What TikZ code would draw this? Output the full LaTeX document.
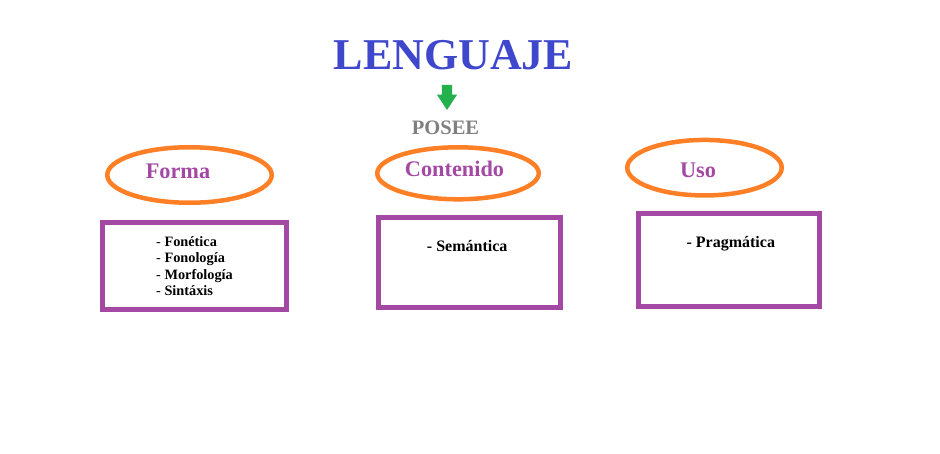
\documentclass[tikz,border=0pt]{standalone}
\usepackage{fontspec}
\setmainfont{Liberation Serif}
\usetikzlibrary{shapes.geometric,shapes.arrows}
\definecolor{azul}{RGB}{63,72,204}
\definecolor{morado}{RGB}{163,73,164}
\definecolor{naranja}{RGB}{255,127,39}
\definecolor{verde}{RGB}{34,177,76}
\definecolor{gris}{RGB}{127,127,127}

\begin{document}
\begin{tikzpicture}
	[x=1pt, y=-1pt,
	every node/.style={font=\bfseries,inner sep=0pt},
	elipse/.style={ellipse,draw=naranja,line width=4.5pt},
	caja/.style={rectangle,draw=morado,line width=5pt},
	parte/.style={morado,anchor=base,font=\fontsize{22.3}{22.3}\selectfont\bfseries},
	item/.style={anchor=base,font=\fontsize{16}{18}\selectfont\bfseries}]
	\useasboundingbox (0,0) rectangle (940,454);
	\node (lenguaje) [azul,anchor=base,font=\fontsize{44}{44}\selectfont\bfseries] at (453.5,70) {LENGUAJE};
	\node (flecha) [single arrow,fill=verde,rotate=-90,minimum height=25,inner xsep=0pt,inner ysep=5pt,
		single arrow head extend=5,single arrow tip angle=67] at (447,93.5) {};
	\node (posee) [gris,anchor=base,font=\fontsize{20.5}{20.5}\selectfont\bfseries] at (445.5,135) {POSEE};
	\node (eForma) [elipse,minimum width=164.5,minimum height=55.5] at (189.5,175) {};
	\node (eContenido) [elipse,minimum width=161.5,minimum height=52] at (458,173.3) {};
	\node (eUso) [elipse,minimum width=154.5,minimum height=55.5] at (704.5,167.7) {};
	\node (forma) [parte] at (178,178.3) {Forma};
	\node (contenido) [parte] at (454.5,176.7) {Contenido};
	\node (uso) [parte] at (698,177.3) {Uso};
	\node (cajaForma) [caja,minimum width=184,minimum height=87,align=left,
		font=\fontsize{14.3}{16.4}\selectfont\bfseries] at (194.5,266)
		{{\mdseries -} Fonética\\{\mdseries -} Fonología\\{\mdseries -} Morfología\\{\mdseries -} Sintáxis};
	\node (cajaContenido) [caja,minimum width=182,minimum height=90] at (469.5,262.5) {};
	\node (cajaUso) [caja,minimum width=181,minimum height=93] at (729,260) {};
	\node (semantica) [item] at (467.2,251.7) {- Semántica};
	\node (pragmatica) [item] at (730.8,247.3) {- Pragmática};
\end{tikzpicture}
\end{document}
